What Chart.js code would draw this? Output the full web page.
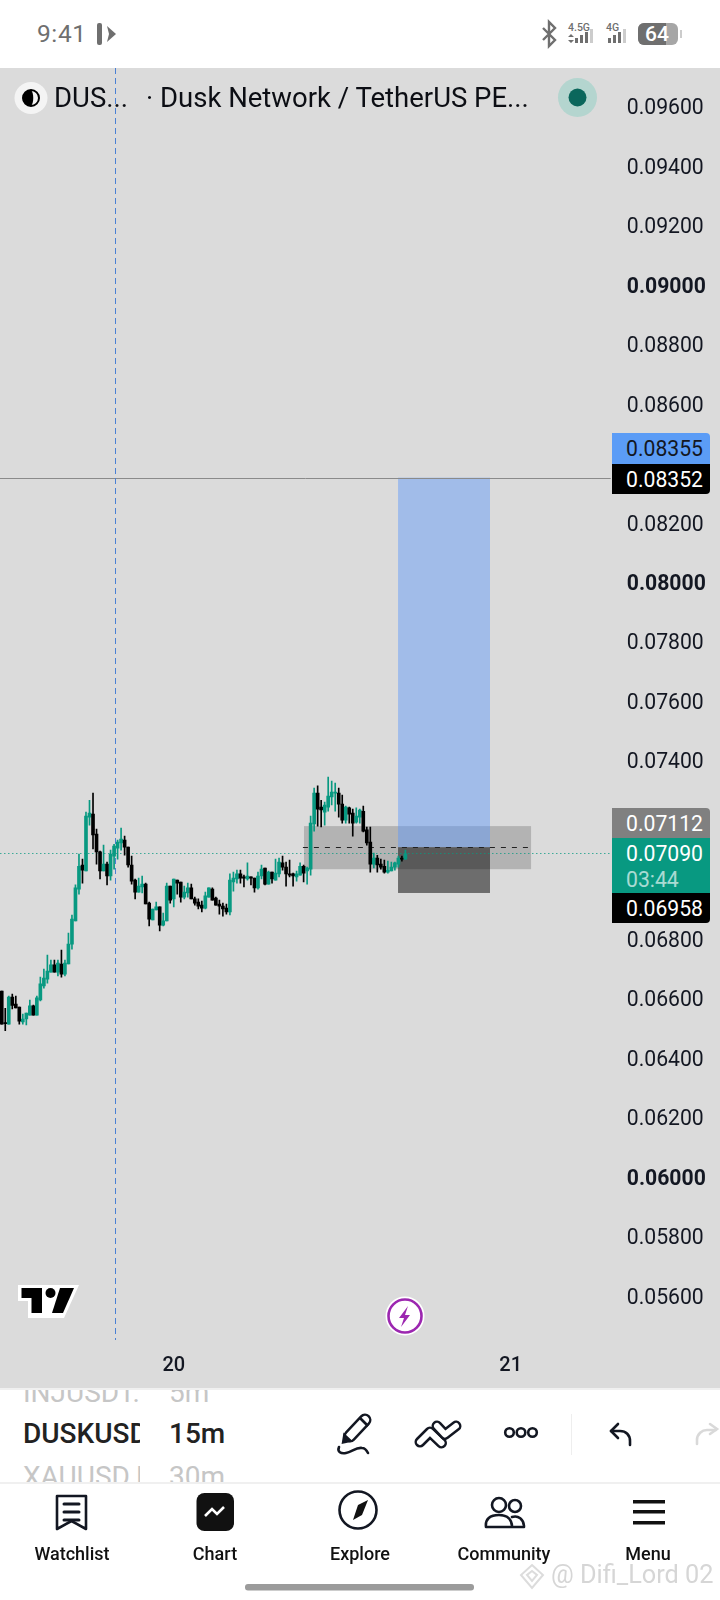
<!DOCTYPE html>
<html><head><meta charset="utf-8">
<script src="https://cdn.jsdelivr.net/npm/chart.js@4"></script>
<style>
html,body{margin:0;padding:0;background:#fff;width:720px;height:1600px;overflow:hidden;font-family:Roboto,sans-serif;color:#131722}
.a{position:absolute}
#c{position:absolute;left:0;top:68px}
.tag{position:absolute;left:612px;width:98px;font-size:21.2px;color:#fff;box-sizing:border-box;padding-left:14px;line-height:31px}
.nav{position:absolute;top:1542px;font-size:18px;font-weight:500;transform:translateX(-50%);white-space:nowrap;color:#111;line-height:24px}
svg{position:absolute;overflow:visible}
</style></head><body>
<canvas id="c" width="720" height="1320"></canvas>

<!-- status bar -->
<div class="a" style="left:37px;top:19px;font-size:24.5px;color:#6f6f6f;line-height:30px;letter-spacing:.6px">9:41</div>
<svg style="left:0;top:0" width="720" height="68">
 <rect x="97" y="23" width="5" height="22" rx="2" fill="#6f6f6f"/>
 <path d="M107 26l9 8-9 8 2-8z" fill="#6f6f6f"/>
 <path d="M543 28l12 12-6 6V22l6 6-12 12" fill="none" stroke="#6f6f6f" stroke-width="2.4"/>
 <g fill="#6f6f6f"><rect x="575" y="38" width="3" height="5"/><rect x="580" y="35" width="3" height="8"/><rect x="585" y="32" width="3" height="11"/><rect x="590" y="29" width="3" height="14" fill="#ccc"/>
 <path d="M571 34l-3 3h6zM571 43l-3-3h6z"/>
 <rect x="608" y="38" width="3" height="5"/><rect x="613" y="35" width="3" height="8"/><rect x="618" y="32" width="3" height="11"/><rect x="623" y="29" width="3" height="14" fill="#ccc"/></g>
 <rect x="638" y="23" width="40" height="22" rx="6" fill="#a6a6a6"/>
 <path d="M644 23h22v22h-22a6 6 0 0 1-6-6V29a6 6 0 0 1 6-6z" fill="#6f6f6f"/>
 <rect x="680" y="30" width="2" height="8" fill="#ccc"/>
</svg>
<div class="a" style="left:568px;top:22px;font-size:10.5px;color:#6f6f6f;font-weight:500;line-height:12px">4.5G</div>
<div class="a" style="left:606px;top:22px;font-size:10.5px;color:#6f6f6f;font-weight:500;line-height:12px">4G</div>
<div class="a" style="left:645px;top:21px;font-size:21px;color:#fff;font-weight:500;line-height:26px">64</div>

<!-- chart header -->
<svg style="left:0;top:0" width="720" height="140">
 <ellipse cx="31" cy="98" rx="16.5" ry="16" fill="#f4f4f4"/>
 <circle cx="31" cy="98" r="8" fill="none" stroke="#000" stroke-width="2"/>
 <path d="M31 90a8 8 0 0 0 0 16c3-3 3-13 0-16z" fill="#000"/>
 <circle cx="577.5" cy="97.5" r="19.5" fill="#b4d5cf"/>
 <circle cx="577.5" cy="97.5" r="9" fill="#0b675c"/>
</svg>
<div class="a" style="left:54px;top:80px;font-size:27.5px;line-height:36px;white-space:nowrap;color:#0c0e14">DUS...</div>
<div class="a" style="left:146px;top:80px;font-size:27.5px;line-height:36px;white-space:nowrap;color:#0c0e14">· Dusk Network / TetherUS PE...</div>

<!-- price tags -->
<div id="tags"></div>

<!-- watermarks on chart -->
<svg style="left:0;top:0" width="720" height="1400">
 <path d="M18 1285H79L64 1318H28V1301H18z" fill="#fff"/>
 <path d="M21.500 1288H42V1313H31.500V1298H21.500z" fill="#000"/>
 <circle cx="50.500" cy="1293" r="5" fill="#000"/>
 <path d="M60 1288H74L63 1313H52z" fill="#000"/>
 <circle cx="405" cy="1316" r="19.5" fill="#fff"/>
 <circle cx="405" cy="1316" r="16.5" fill="#fff" stroke="#9c27b0" stroke-width="2.6"/>
 <path d="M408 1306l-9 12h5l-3 9 9-12h-5z" fill="#9c27b0"/>
</svg>

<!-- symbol strip -->
<div class="a" style="left:0;top:1388px;width:720px;height:94px;background:#fff;overflow:hidden;border-top:2px solid #f0f0f0;box-sizing:border-box">
 <div class="a" style="left:23px;top:-13px;width:117px;overflow:hidden;font-size:28px;line-height:32px;color:#c6c6c6;white-space:nowrap">INJUSDT.P</div>
 <div class="a" style="left:169px;top:-13px;font-size:28px;line-height:32px;color:#c6c6c6">5m</div>
 <div class="a" style="left:23px;top:28px;width:117px;overflow:hidden;font-size:28px;font-weight:500;line-height:32px;color:#222;white-space:nowrap">DUSKUSDT.P</div>
 <div class="a" style="left:169px;top:28px;font-size:28px;font-weight:500;line-height:32px;color:#222">15m</div>
 <div class="a" style="left:23px;top:71px;width:117px;overflow:hidden;font-size:28px;line-height:32px;color:#c6c6c6;white-space:nowrap">XAUUSD.P</div>
 <div class="a" style="left:169px;top:71px;font-size:28px;line-height:32px;color:#c6c6c6">30m</div>
</div>
<div class="a" style="left:0;top:1482px;width:720px;height:2px;background:#f0f0f0"></div>

<!-- toolbar + nav icons -->
<svg style="left:0;top:0" width="720" height="1600">
 <path d="M350 1436L365 1420" stroke="#131722" stroke-width="13" stroke-linecap="round" fill="none"/>
 <path d="M350 1436L365 1420" stroke="#fff" stroke-width="8" stroke-linecap="round" fill="none"/>
 <path d="M342.500 1443l1.500-9 7.500 7z" fill="#131722" stroke="#131722" stroke-width="1.500"/>
 <path d="M360 1418l8 8" stroke="#131722" stroke-width="2.600"/>
 <g fill="none" stroke-linejoin="round" stroke-linecap="round">
  <path d="M420 1442L430 1432L441.500 1443" stroke="#131722" stroke-width="11"/>
  <path d="M420 1442L430 1432L441.500 1443" stroke="#fff" stroke-width="6"/>
  <path d="M437 1426L445 1434.500L456 1426" stroke="#131722" stroke-width="11"/>
  <path d="M437 1426L445 1434.500L456 1426" stroke="#fff" stroke-width="6"/>
 </g>
 <g fill="none" stroke="#131722" stroke-width="2.6" stroke-linejoin="round" stroke-linecap="round">
  <path d="M339 1447c-2 5 2 7 7 6c6-1 10-6 16-5c3 0 5 3 6 5"/>
  <circle cx="509.5" cy="1432.5" r="4.3"/><circle cx="521" cy="1432.5" r="4.3"/><circle cx="532.5" cy="1432.5" r="4.3"/>
  <path d="M618 1424l-7 7 7 7"/><path d="M611 1431h9c6 0 10 4 10 10v4"/>
  <path d="M57 1496h29v33l-14.500-8-14.500 8z"/>
  <path d="M64 1504h15M64 1512h15M64 1520h15" stroke-width="3"/>
  <ellipse cx="358" cy="1510" rx="18.500" ry="18.500" />
  <circle cx="499" cy="1505" r="7"/><circle cx="515" cy="1506" r="6"/>
  <path d="M486 1527c-1-8 4-12 13-12s13 5 13 12zM512 1517c6-2 12 2 12 10h-12"/>
 </g>
 <g fill="none" stroke="#d9d9d9" stroke-width="2.6" stroke-linecap="round"><path d="M710 1424l7 5-7 5"/><path d="M716 1430h-9c-5 0-10 4-10 10v4"/></g>
 <rect x="571" y="1414" width="1" height="41" fill="#eee"/>
 <rect x="196.500" y="1493" width="37.500" height="38" rx="8" fill="#111"/>
 <path d="M205 1516l7-7 5 5 7-7" fill="none" stroke="#fff" stroke-width="2.600"/>
 <path d="M368 1500l-6 15-9 5 5-15z" fill="#111"/>
 <g fill="#111"><rect x="633" y="1500" width="32" height="3.500"/><rect x="633" y="1510" width="32" height="3.500"/><rect x="633" y="1521" width="32" height="3.500"/></g>
 <rect x="245" y="1584" width="229" height="6.500" rx="3" fill="#9b9b9b"/>
 <path d="M532 1565l11 10-11 13-11-13z M532 1571l5 4-5 6-5-6z" fill="none" stroke="#dcdcdc" stroke-width="2"/>
</svg>
<div class="nav" style="left:72px">Watchlist</div>
<div class="nav" style="left:215px">Chart</div>
<div class="nav" style="left:360px">Explore</div>
<div class="nav" style="left:504px">Community</div>
<div class="nav" style="left:648px">Menu</div>
<div class="a" style="left:551px;top:1559px;font-size:25.3px;line-height:32px;color:#d6d6d6;white-space:nowrap">@ Difi_Lord 02</div>

<script>
const opens=[0.06628,0.06522,0.06517,0.06608,0.06584,0.06574,0.06524,0.06534,0.06547,0.06578,
0.06547,0.06598,0.06645,0.06668,0.06692,0.06716,0.06692,0.06719,0.06685,0.06719,
0.06786,0.06864,0.06971,0.07052,0.07032,0.07213,0.07223,0.07156,0.07096,0.07032,
0.07055,0.07015,0.07082,0.07109,0.07126,0.07136,0.07112,0.07052,0.07001,0.06961,
0.06978,0.06988,0.06924,0.06867,0.06901,0.06911,0.06850,0.06864,0.06981,0.06938,
0.07001,0.06995,0.06944,0.06958,0.06975,0.06938,0.06927,0.06917,0.06907,0.06944,
0.06971,0.06941,0.06921,0.06914,0.06907,0.06894,0.06995,0.07005,0.07022,0.07012,
0.07005,0.07012,0.07008,0.06975,0.07015,0.07042,0.06988,0.07028,0.07001,0.07022,
0.07059,0.07045,0.07022,0.07022,0.07012,0.07018,0.07048,0.07032,0.07038,0.07190,
0.07294,0.07247,0.07230,0.07247,0.07281,0.07294,0.07294,0.07257,0.07203,0.07244,
0.07227,0.07196,0.07213,0.07233,0.07170,0.07129,0.07055,0.07075,0.07055,0.07048,
0.07028,0.07032,0.07045,0.07055,0.07075,0.07072];
const highs=[0.06628,0.06570,0.06611,0.06618,0.06611,0.06574,0.06551,0.06554,0.06598,0.06581,
0.06611,0.06675,0.06702,0.06749,0.06732,0.06732,0.06732,0.06766,0.06732,0.06823,
0.06884,0.06985,0.07089,0.07072,0.07230,0.07270,0.07294,0.07173,0.07099,0.07119,
0.07062,0.07102,0.07122,0.07136,0.07176,0.07149,0.07112,0.07082,0.07005,0.07008,
0.07015,0.06991,0.06927,0.06904,0.06927,0.06911,0.06890,0.06991,0.06981,0.07005,
0.07001,0.06995,0.06981,0.06991,0.06988,0.06944,0.06938,0.06931,0.06961,0.06975,
0.06975,0.06944,0.06934,0.06924,0.06921,0.07022,0.07028,0.07035,0.07035,0.07018,
0.07059,0.07012,0.07008,0.07028,0.07052,0.07042,0.07032,0.07028,0.07072,0.07075,
0.07082,0.07062,0.07069,0.07025,0.07032,0.07059,0.07052,0.07045,0.07217,0.07311,
0.07318,0.07270,0.07264,0.07348,0.07334,0.07328,0.07311,0.07287,0.07250,0.07247,
0.07240,0.07244,0.07240,0.07250,0.07180,0.07180,0.07092,0.07085,0.07072,0.07069,
0.07065,0.07062,0.07062,0.07082,0.07082,0.07102];
const lows=[0.06517,0.06495,0.06517,0.06568,0.06571,0.06517,0.06517,0.06514,0.06547,0.06547,
0.06547,0.06595,0.06638,0.06655,0.06692,0.06692,0.06679,0.06675,0.06679,0.06719,
0.06769,0.06864,0.06954,0.06991,0.07032,0.07186,0.07106,0.07055,0.07005,0.07032,
0.06985,0.07001,0.07038,0.07072,0.07102,0.07085,0.07045,0.06988,0.06938,0.06961,
0.06958,0.06921,0.06847,0.06867,0.06901,0.06830,0.06847,0.06864,0.06924,0.06911,
0.06954,0.06927,0.06938,0.06944,0.06938,0.06917,0.06904,0.06894,0.06904,0.06944,
0.06934,0.06917,0.06887,0.06880,0.06887,0.06884,0.06964,0.06991,0.06991,0.06978,
0.07001,0.06985,0.06961,0.06971,0.07005,0.06985,0.06988,0.06991,0.07001,0.07012,
0.07035,0.06981,0.07012,0.06981,0.06998,0.07018,0.06995,0.06988,0.07018,0.07166,
0.07183,0.07180,0.07186,0.07233,0.07254,0.07233,0.07213,0.07193,0.07193,0.07193,
0.07149,0.07193,0.07193,0.07163,0.07119,0.07028,0.07042,0.07028,0.07038,0.07025,
0.07025,0.07032,0.07035,0.07045,0.07065,0.07072];
const closes=[0.06517,0.06518,0.06608,0.06580,0.06571,0.06527,0.06534,0.06554,0.06578,0.06547,
0.06605,0.06652,0.06672,0.06695,0.06716,0.06692,0.06722,0.06685,0.06722,0.06786,
0.06870,0.06975,0.07048,0.07035,0.07217,0.07227,0.07153,0.07096,0.07032,0.07055,
0.07015,0.07089,0.07116,0.07129,0.07139,0.07112,0.07052,0.06998,0.06961,0.06981,
0.06988,0.06921,0.06870,0.06904,0.06911,0.06850,0.06864,0.06981,0.06934,0.07005,
0.06991,0.06944,0.06961,0.06975,0.06938,0.06924,0.06914,0.06907,0.06948,0.06975,
0.06934,0.06917,0.06914,0.06904,0.06894,0.07001,0.07008,0.07022,0.07008,0.07008,
0.07015,0.07008,0.06975,0.07015,0.07038,0.06988,0.07028,0.07005,0.07025,0.07062,
0.07045,0.07022,0.07018,0.07015,0.07022,0.07048,0.07025,0.07042,0.07193,0.07294,
0.07240,0.07237,0.07254,0.07284,0.07297,0.07297,0.07257,0.07203,0.07247,0.07223,
0.07193,0.07217,0.07237,0.07166,0.07126,0.07055,0.07075,0.07052,0.07045,0.07028,
0.07035,0.07045,0.07059,0.07075,0.07072,0.07090];
const slotCount=174;
const dayLabels={49:'20',145:'21'};
const priceTicks=[0.056,0.058,0.060,0.062,0.064,0.066,0.068,0.070,0.072,0.074,0.076,0.078,0.080,0.082,0.084,0.086,0.088,0.090,0.092,0.094,0.096];
const boldTicks=[0.060,0.070,0.080,0.090];
const lastPrice=0.07090, crossPrice=0.08352, crossSlot=32.4;
const targetPrice=0.08355, entryPrice=0.07112, stopPrice=0.06958, positionSlots=[112.9,139.1];
const zoneTop=0.07183, zoneBottom=0.07038, zoneSlots=[86.1,150.8], entrySlots=[85.8,150];
const tags=[
 {text:'0.08355',top:433,h:30.7,bg:'#5b9cf6',color:'#131722'},
 {text:'0.08352',top:463.7,h:30.3,bg:'#000',color:'#fff'},
 {text:'0.07112',top:808,h:29.7,bg:'#808080',color:'#fff'},
 {text:'0.07090',sub:'03:44',top:837.7,h:55,bg:'#089981',color:'#fff'},
 {text:'0.06958',top:892.7,h:30,bg:'#000',color:'#fff'}];

const GREEN='#089981', BLACK='#000';
const labels=Array.from({length:slotCount},(_,i)=>dayLabels[i]||'');
const colors=opens.map((o,i)=>closes[i]>=o?GREEN:BLACK);

const overlays={id:'overlays',beforeDatasetsDraw(ch){
 const c=ch.ctx,x=ch.scales.x,y=ch.scales.y,a=ch.chartArea;
 const rect=(s0,s1,p0,p1,col)=>{c.fillStyle=col;const X=x.getPixelForValue(s0),Y=y.getPixelForValue(p0);
   c.fillRect(X,Y,x.getPixelForValue(s1)-X,y.getPixelForValue(p1)-Y);};
 const hline=(X0,X1,p,col,dash)=>{c.beginPath();c.setLineDash(dash);c.strokeStyle=col;c.lineWidth=1;
   const Y=Math.floor(y.getPixelForValue(p))+.5;c.moveTo(X0,Y);c.lineTo(X1,Y);c.stroke();c.setLineDash([]);};
 c.save();
 rect(zoneSlots[0],zoneSlots[1],zoneTop,zoneBottom,'rgba(0,0,0,.18)');
 rect(positionSlots[0],positionSlots[1],targetPrice,entryPrice,'rgba(90,150,250,.45)');
 rect(positionSlots[0],positionSlots[1],entryPrice,stopPrice,'rgba(0,0,0,.5)');
 hline(x.getPixelForValue(entrySlots[0]),x.getPixelForValue(entrySlots[1]),entryPrice,'#222',[5,6]);
 hline(0,a.right,lastPrice,'rgba(8,153,129,.75)',[1.5,2.5]);
 hline(0,a.right,crossPrice,'#8a8a8a',[]);
 const X=Math.round(x.getPixelForValue(crossSlot))+.5;
 c.beginPath();c.setLineDash([6,4]);c.strokeStyle='#4a80d4';c.lineWidth=1;c.moveTo(X,a.top);c.lineTo(X,a.bottom);c.stroke();
 c.restore();
}};
const paintBg={id:'paintBg',beforeDraw(ch){const c=ch.ctx;c.save();c.fillStyle='#dbdbdb';c.fillRect(0,0,ch.width,ch.height);c.restore();}};
const nudgeLabels={id:'nudgeLabels',afterUpdate(ch){ch.scales.y.getLabelItems().forEach(it=>{it.options.translation[1]+=1.5;});}};

new Chart(document.getElementById('c'),{
 type:'bar',
 data:{labels,datasets:[
  {label:'wick',data:lows.map((l,i)=>[l,highs[i]]),backgroundColor:colors,barThickness:1,grouped:false,order:2},
  {label:'body',data:opens.map((o,i)=>[o,closes[i]]),backgroundColor:colors,barThickness:3,grouped:false,order:1,minBarLength:1}
 ]},
 plugins:[paintBg,overlays,nudgeLabels],
 options:{
  responsive:false,animation:false,devicePixelRatio:1,
  layout:{padding:0},
  plugins:{legend:{display:false},tooltip:{enabled:false}},
  scales:{
   x:{type:'category',offset:true,grid:{display:false},border:{display:false},
      afterFit:s=>{s.height=48;s.paddingLeft=0;s.paddingRight=0;},
      ticks:{autoSkip:false,maxRotation:0,minRotation:0,padding:6,color:'#131722',font:{family:'Roboto',size:20,weight:'500'},
        callback:(v,i)=>dayLabels[i]||null}},
   y:{type:'linear',position:'right',min:0.054544,max:0.097329,grid:{display:false},border:{display:false},
      afterBuildTicks:s=>{s.ticks=priceTicks.map(v=>({value:v}));},
      afterFit:s=>{s.width=720-slotCount*3.51;s.paddingTop=0;s.paddingBottom=0;},
      ticks:{padding:8,color:'#131722',
        font:c=>({family:'Roboto',size:21.2,weight:(c.tick&&boldTicks.some(b=>Math.abs(b-c.tick.value)<1e-9))?'bold':'normal'}),
        callback:v=>v.toFixed(5)}}
  }
 }
});

const host=document.getElementById('tags');
tags.forEach((t,i)=>{const d=document.createElement('div');d.className='tag';
 d.style.cssText=`top:${t.top}px;height:${t.h}px;background:${t.bg};color:${t.color}`;
 if(i==0)d.style.borderTopRightRadius='4px';
 if(i==1||i==4)d.style.borderBottomRightRadius='4px';
 if(i==2)d.style.borderTopRightRadius='4px';
 d.innerHTML=t.text+(t.sub?`<br><span style="opacity:.65;position:relative;top:-5px">${t.sub}</span>`:'');
 host.appendChild(d);});
</script>
</body></html>
